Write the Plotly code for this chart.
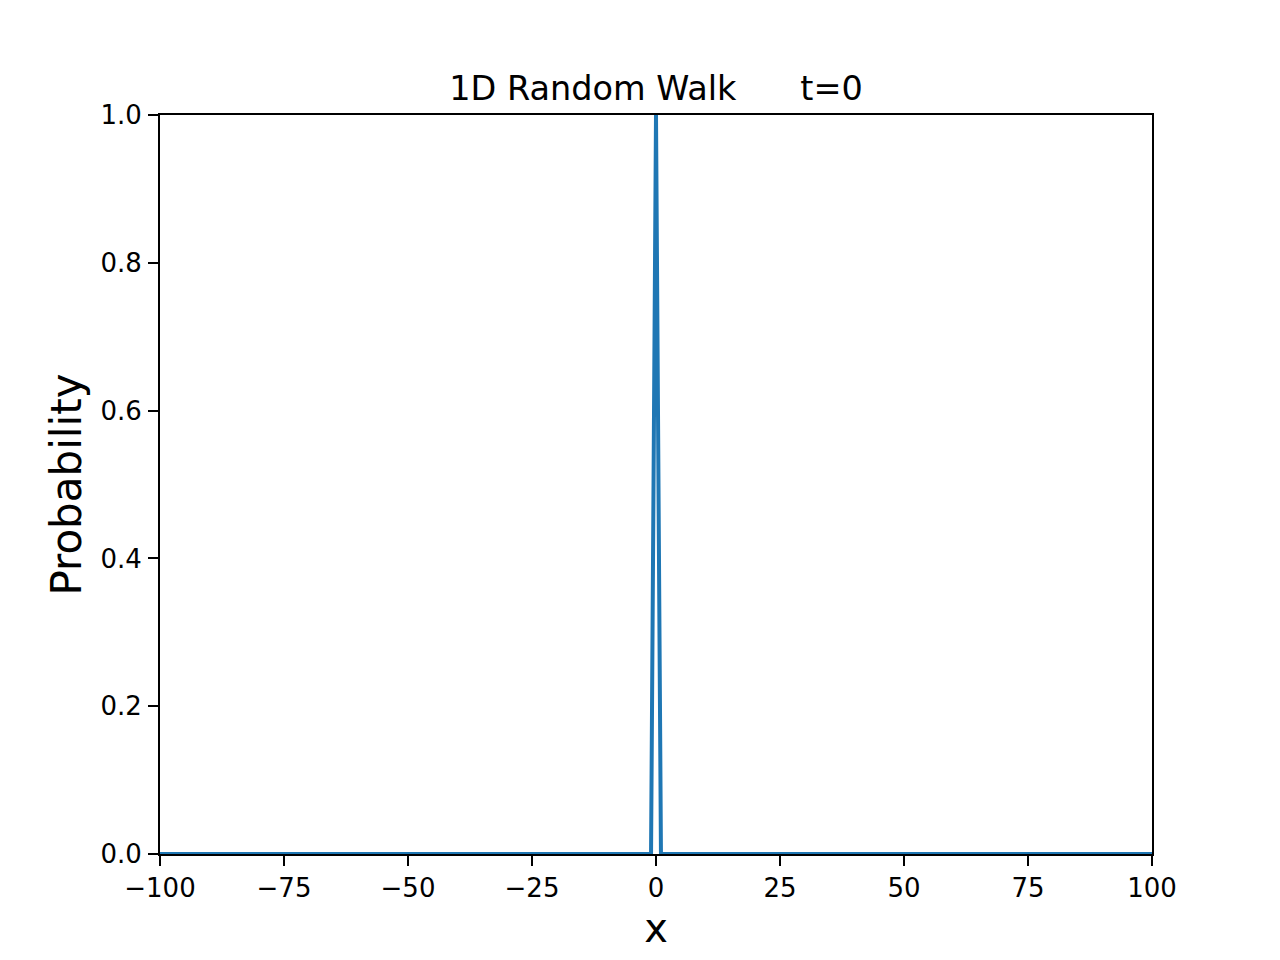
import plotly.graph_objects as go

# Data
x_vals = [-100, -1, 0, 1, 100]
prob_vals = [0.0, 0.0, 1.0, 0.0, 0.0]
x_ticks = [-100, -75, -50, -25, 0, 25, 50, 75, 100]
x_tick_labels = ["\u2212100", "\u221275", "\u221250", "\u221225", "0", "25", "50", "75", "100"]
y_ticks = [0.0, 0.2, 0.4, 0.6, 0.8, 1.0]
y_tick_labels = ["0.0", "0.2", "0.4", "0.6", "0.8", "1.0"]
title_text = "1D Random Walk" + "\u00a0" * 6 + "t=0"

fig = go.Figure()
fig.add_trace(go.Scatter(x=x_vals, y=prob_vals, mode="lines",
                         line=dict(color="#1f77b4", width=4), showlegend=False))

axis_common = dict(showgrid=False, zeroline=False, showline=True, linecolor="black",
                   linewidth=2, mirror=True, ticks="outside", ticklen=10, tickwidth=2,
                   tickcolor="black", automargin=False,
                   tickfont=dict(family="DejaVu Sans", size=26, color="black"))

fig.update_xaxes(range=[-100, 100], tickvals=x_ticks, ticktext=x_tick_labels,
                 title=dict(text="x", font=dict(family="DejaVu Sans", size=40, color="black"), standoff=12),
                 **axis_common)
fig.update_yaxes(range=[0, 1], tickvals=y_ticks, ticktext=y_tick_labels, ticklabelstandoff=1,
                 title=dict(text="Probability", font=dict(family="DejaVu Sans", size=42, color="black"), standoff=6),
                 **axis_common)

fig.update_layout(
    width=1280, height=960,
    margin=dict(l=160, r=128, t=115, b=106),
    paper_bgcolor="white", plot_bgcolor="white",
    title=dict(text=title_text, x=0.5, xref="paper", xanchor="center", y=1 - 88 / 960, yanchor="middle",
               font=dict(family="DejaVu Sans", size=33.5, color="black")),
)

fig.write_html("out.html", config={"displayModeBar": False},
               post_script="document.body.style.margin='0';")
